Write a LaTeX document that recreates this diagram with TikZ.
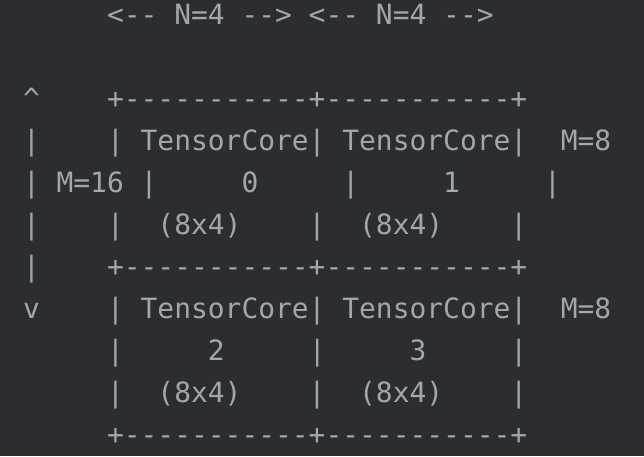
\documentclass[tikz,border=0pt]{standalone}
\usepackage{fontspec}
\setmonofont{DejaVu Sans Mono}
\definecolor{bgc}{HTML}{2B2D30}
\definecolor{txc}{HTML}{A3A7AD}
\newcommand{\cw}{16.81}
\newcommand{\xo}{23.0}
\tikzset{
  asciiline/.style={anchor=base west, inner sep=0pt, outer sep=0pt, text=txc,
    font=\ttfamily\fontsize{27.92pt}{42pt}\selectfont}
}
\begin{document}
\begin{tikzpicture}[x=1pt,y=-1pt]
\fill[bgc] (0,0) rectangle (644,456);
\useasboundingbox (0,0) rectangle (644,456);
\node[asciiline] (l0) at ({\xo+5*\cw},24.0) {<-- N=4 --> <-- N=4 -->};
\node[asciiline] (l2) at ({\xo},108.2) {\textasciicircum\ \ \ \ +-----------+-----------+};
\node[asciiline] (l3) at ({\xo},150.2) {|\ \ \ \ |\ TensorCore|\ TensorCore|\ \ M=8};
\node[asciiline] (l4) at ({\xo},192.3) {|\ M=16\ |\ \ \ \ \ 0\ \ \ \ \ |\ \ \ \ \ 1\ \ \ \ \ |};
\node[asciiline] (l5) at ({\xo},234.4) {|\ \ \ \ |\ \ (8x4)\ \ \ \ |\ \ (8x4)\ \ \ \ |};
\node[asciiline] (l6) at ({\xo},276.5) {|\ \ \ \ +-----------+-----------+};
\node[asciiline] (l7) at ({\xo},318.6) {v\ \ \ \ |\ TensorCore|\ TensorCore|\ \ M=8};
\node[asciiline] (l8) at ({\xo+5*\cw},360.6) {|\ \ \ \ \ 2\ \ \ \ \ |\ \ \ \ \ 3\ \ \ \ \ |};
\node[asciiline] (l9) at ({\xo+5*\cw},402.7) {|\ \ (8x4)\ \ \ \ |\ \ (8x4)\ \ \ \ |};
\node[asciiline] (l10) at ({\xo+5*\cw},444.8) {+-----------+-----------+};
\end{tikzpicture}
\end{document}
